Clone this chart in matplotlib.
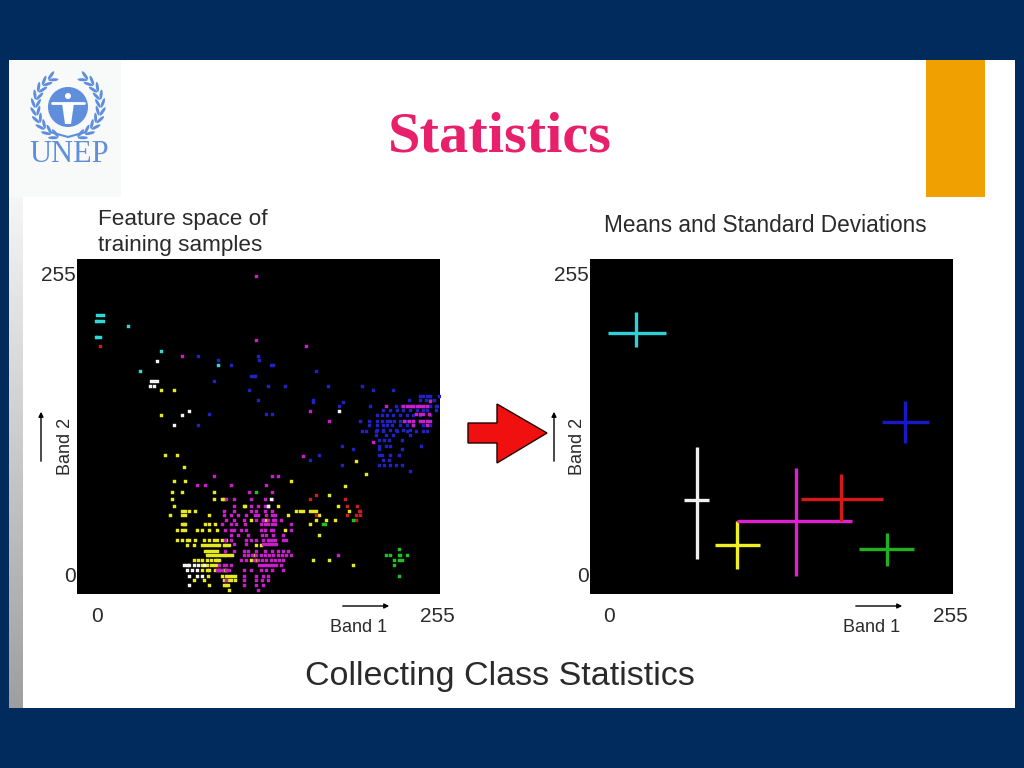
import numpy as np
from matplotlib import pyplot as plt
from matplotlib.patches import Circle, Ellipse, Polygon, Rectangle

# (band 2, [band 1 values]) rows
yellow_rows = [
    (155, [59, 68]), (136, [59]), (106, [62, 70]), (97, [75]), (86, [68, 76, 150]),
    (101, [196]), (91, [203]), (82, [188]), (78, [67, 74, 96]), (75, [177]),
    (72, [67, 96, 102, 103]), (67, [68, 117, 118, 134, 141, 183]),
    (63, [74, 76, 79, 83, 154, 157, 159, 164, 166, 168, 191]),
    (60, [65, 74, 76, 93, 148, 170]), (56, [122, 131, 133, 168, 175, 181]),
    (53, [74, 75, 76, 90, 93, 97, 164]), (49, [70, 74, 76, 84, 88, 93, 98, 146]),
    (45, [170]), (41, [70, 74, 77, 79, 83, 89, 93, 96, 98, 102, 105]),
    (37, [77, 82, 88, 90, 92, 94, 96, 98, 100, 103, 105, 107, 126, 129]),
    (33, [90, 92, 94, 96, 98]),
    (30, [91, 93, 95, 97, 99, 101, 103, 105, 107, 109, 124]),
    (26, [82, 85, 88, 91, 94, 97, 98, 100, 122, 126, 166, 177]),
    (22, [88, 91, 94, 96, 98, 194]), (18, [88, 91, 93, 97, 100, 103, 105]),
    (14, [92, 102, 105, 107, 109, 111]), (11, [82, 89, 103, 106, 108, 111]),
    (7, [93, 103, 105, 106]), (3, [107]),
]
magenta_rows = [
    (242, [126]), (193, [126]), (189, [161]), (181, [74]), (139, [164]), (132, [177]),
    (116, [208]), (105, [159]), (30, [183]),
    (143, [217, 229, 232, 234, 236, 239, 241, 243, 246]), (147, [248]),
    (137, [238, 241, 243, 247]), (132, [230, 233, 236, 241, 243, 246, 248]), (129, [236, 246]),
    (90, [96, 137, 141]), (83, [84, 90, 108, 133]), (78, [121, 137]),
    (72, [105, 110, 122, 132, 137]), (67, [110, 122, 127, 132]),
    (63, [103, 110, 122, 126, 132, 137]),
    (60, [103, 108, 113, 119, 125, 127, 133, 137, 139]),
    (56, [105, 110, 117, 126, 131, 134, 138, 139, 143]),
    (53, [102, 108, 112, 118, 129, 132, 134, 137, 139, 150]),
    (49, [104, 108, 110, 115, 119, 129, 132, 136, 138, 150]),
    (45, [108, 113, 120, 130, 133, 138, 145]),
    (41, [104, 108, 119, 122, 126, 131, 134, 135, 137, 139, 145, 147]),
    (38, [110, 119, 131, 133, 135, 136, 138, 140]),
    (33, [104, 110, 117, 120, 126, 132, 137, 141, 145, 148]),
    (30, [117, 120, 123, 126, 129, 132, 135, 138, 141, 144, 147, 150]),
    (26, [115, 119, 124, 127, 130, 133, 136, 139, 142, 145]),
    (22, [100, 103, 105, 108, 128, 130, 132, 134, 136, 138, 140, 143]),
    (18, [98, 100, 102, 105, 107, 117, 122, 129, 133, 137, 145]),
    (14, [117, 126, 131, 134]), (11, [105, 117, 126, 130, 134]),
    (7, [117, 126, 131]), (3, [127]),
]
blue_rows = [
    (181, [85, 127]), (178, [99, 128]), (174, [108, 136, 138]), (170, [168]),
    (166, [122, 125, 124]), (162, [96]), (158, [134, 146, 176, 200]), (155, [121, 208, 222]),
    (151, [241, 243, 246, 248, 254]), (148, [127, 166, 233, 241, 245, 248, 251]),
    (146, [166, 187]), (143, [184, 206, 224, 228, 232, 236, 240, 244, 248, 252, 253]),
    (140, [215, 220, 225, 229, 234, 239, 243, 246, 252]), (137, [93, 133, 137]),
    (136, [211, 214, 218, 222, 227, 232, 236, 241, 248]),
    (132, [199, 205, 211, 214, 218, 220, 223, 227, 232, 236, 241]),
    (129, [85, 205, 211, 215, 218, 221, 227, 232, 236, 243, 248]),
    (125, [211, 215, 220, 224, 229, 234]),
    (124, [200, 203, 210, 215, 225, 232, 238, 243, 246]),
    (121, [210, 217, 222, 234]), (117, [212, 216, 219, 228]),
    (113, [186, 212, 217, 220, 242]), (110, [194, 212, 228]), (106, [170, 212, 214, 220, 226]),
    (102, [164, 215, 219]), (98, [186, 212, 216, 220, 224, 228]), (94, [234]),
]
cyan_x = [14, 16, 18, 13, 14, 16, 18, 13, 14, 16, 36, 59, 44, 99]
cyan_y = [212, 212, 212, 208, 208, 208, 208, 196, 196, 196, 204, 185, 170, 174]
white_x = [56, 52, 54, 56, 51, 54, 74, 79, 68, 184, 75, 77, 79, 82, 85, 89, 77, 81, 84, 79, 84, 88, 79, 136, 134]
white_y = [177, 162, 162, 162, 158, 158, 136, 139, 129, 139, 22, 22, 22, 22, 22, 22, 18, 18, 18, 14, 14, 14, 7, 72, 67]
red_x = [16, 164, 168, 188, 190, 197, 198, 199, 168, 190, 196, 199, 196]
red_y = [189, 72, 75, 72, 67, 67, 63, 63, 60, 60, 60, 60, 56]
green_x = [194, 173, 174, 217, 220, 226, 227, 232, 226, 223, 226, 228, 223, 226, 126]
green_y = [56, 53, 53, 30, 30, 30, 30, 30, 34, 26, 26, 26, 22, 14, 78]

# class means and extents for the right panel
class_colors = ['#30d0d8', '#f0f0f0', '#f0f020', '#e020d0', '#d81818', '#1818c8', '#20b020']
mean_x = [32.3, 75.2, 103.3, 144.7, 176.3, 221.3, 208.6]
mean_y = [198.7, 71.6, 37.3, 55.6, 72.3, 130.9, 34.3]
low_x = [12.6, 66.0, 87.8, 103.3, 148.2, 205.1, 189.0]
high_x = [53.4, 83.6, 119.4, 184.0, 205.8, 238.1, 227.6]
low_y = [188.0, 26.6, 19.0, 13.7, 55.6, 114.9, 21.3]
high_y = [214.7, 111.9, 55.6, 95.9, 91.3, 146.9, 46.4]

NAVY = '#002b5c'
TEXT = '#2a2a2a'
POINT_SIZE = 6
plt.rcParams['font.family'] = ['Liberation Sans', 'DejaVu Sans']


def expand(rows):
    xs = [x for y, row in rows for x in row]
    ys = [y for y, row in rows for x in row]
    return xs, ys


def make_panel(fig, left, x0_label, x255_label):
    ax = fig.add_axes([left / 1024, 1 - 594 / 768, 363 / 1024, 335 / 768], facecolor='black')
    ax.set_xlim(0, 255)
    ax.set_ylim(0, 255)
    ax.set_xticks([x0_label, x255_label], ['0', '255'])
    ax.set_yticks([14.5, 244], ['0', '255'])
    ax.tick_params(length=0, labelsize=15, labelcolor=TEXT)
    ax.tick_params(axis='x', pad=9)
    ax.tick_params(axis='y', pad=1)
    for spine in ax.spines.values():
        spine.set_visible(False)
    return ax


def draw_logo(bg):
    blue = '#5f8fdc'
    bg.add_patch(Circle((68, 107), 20, color=blue, lw=0))
    # little man in the circle
    bg.plot([52, 84], [103, 103], color='white', lw=2, solid_capstyle='round')
    bg.add_patch(Polygon([[62, 103], [74, 103], [71, 124], [65, 124]], color='white', lw=0))
    bg.add_patch(Circle((68, 96), 3, color='white', lw=0))
    # laurel wreath, two rows of leaves per side
    for side in [-1, 1]:
        for deg in range(25, 152, 14):
            t = np.radians(deg)
            tangent = np.degrees(np.arctan2(-np.sin(t), side * np.cos(t)))
            for r, lean in [(30, -25), (35, 25)]:
                bg.add_patch(Ellipse((68 + side * r * np.sin(t), 106 + r * np.cos(t)), 10, 3,
                                     angle=tangent + side * lean, color=blue, lw=0))
    bg.plot([50, 68, 86], [132, 137, 132], color=blue, lw=1.5)
    bg.text(69, 155, 'UNEP', family='Liberation Serif', fontsize=22, color=blue, ha='center', va='center')


fig = plt.figure(figsize=(10.24, 7.68), dpi=100, facecolor=NAVY)

# slide background, in image pixels
bg = fig.add_axes([0, 0, 1, 1])
bg.set_xlim(0, 1024)
bg.set_ylim(768, 0)
bg.axis('off')
bg.add_patch(Rectangle((9, 60), 1006, 648, color='white', lw=0))
shade = np.linspace(0.96, 0.62, 256)[:, None]
bg.imshow(shade, extent=(9, 23, 708, 197), cmap='gray', vmin=0, vmax=1, aspect='auto', zorder=2)
bg.set_xlim(0, 1024)
bg.set_ylim(768, 0)
bg.add_patch(Rectangle((9, 60), 112, 137, color='#f8f9f9', lw=0, zorder=2))
bg.add_patch(Rectangle((926, 60), 59, 137, color='#f0a000', lw=0))
draw_logo(bg)
for artist in bg.patches[3:] + bg.lines + bg.texts:
    artist.set_zorder(3)

bg.text(500, 138, 'Statistics', family='Liberation Serif', weight='bold', fontsize=42,
        color='#e8206c', ha='center', va='center')
bg.text(98, 219, 'Feature space of', fontsize=16.2, color=TEXT, va='center')
bg.text(98, 245, 'training samples', fontsize=16.2, color=TEXT, va='center')
bg.text(604, 226, 'Means and Standard Deviations', fontsize=16.3, color=TEXT, va='center')
bg.text(500, 677, 'Collecting Class Statistics', fontsize=24.5, color=TEXT, ha='center', va='center')

for x_off in [0, 513]:
    bg.text(359 + x_off, 627, 'Band 1', fontsize=13, color=TEXT, ha='center', va='center')
    bg.text(65 + x_off, 446, 'Band 2', fontsize=13, color=TEXT, ha='center', va='center', rotation=90)
    bg.annotate('', xy=(392 + x_off, 606), xytext=(340 + x_off, 606),
                arrowprops=dict(arrowstyle='-|>', color='black', lw=1, mutation_scale=7))
    bg.annotate('', xy=(41 + x_off, 409), xytext=(41 + x_off, 464),
                arrowprops=dict(arrowstyle='-|>', color='black', lw=1, mutation_scale=7))

arrow = [[468, 423], [497, 423], [497, 404], [547, 433], [497, 463], [497, 443], [468, 443]]
bg.add_patch(Polygon(arrow, facecolor='#f01010', edgecolor='#200000', lw=1))

# left panel: training samples
ax1 = make_panel(fig, 77, 14, 253)
point_groups = [
    (blue_rows, '#2222c0'), (yellow_rows, '#e8e820'), (magenta_rows, '#c820c8'),
]
for rows, color in point_groups:
    xs, ys = expand(rows)
    ax1.scatter(xs, ys, s=POINT_SIZE, marker='s', color=color, linewidths=0, snap=False)
ax1.scatter(cyan_x, cyan_y, s=POINT_SIZE, marker='s', color='#30d8d8', linewidths=0, snap=False)
ax1.scatter(white_x, white_y, s=POINT_SIZE, marker='s', color='#f4f4f4', linewidths=0, snap=False)
ax1.scatter(red_x, red_y, s=POINT_SIZE, marker='s', color='#c82020', linewidths=0, snap=False)
ax1.scatter(green_x, green_y, s=POINT_SIZE, marker='s', color='#20c020', linewidths=0, snap=False)

# right panel: means and standard deviations
ax2 = make_panel(fig, 590, 13.5, 253)
for i, color in enumerate(class_colors):
    ax2.hlines(mean_y[i], low_x[i], high_x[i], color=color, lw=2.4)
    ax2.vlines(mean_x[i], low_y[i], high_y[i], color=color, lw=2.4)

fig.savefig('out.png', dpi=100, facecolor=fig.get_facecolor())
